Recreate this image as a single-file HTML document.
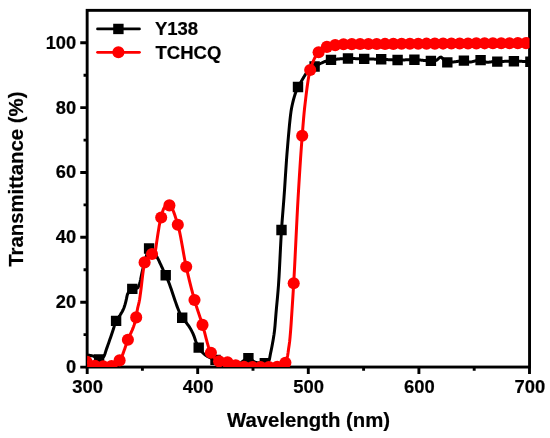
<!DOCTYPE html>
<html lang="en"><head><meta charset="utf-8"><title>Transmittance</title>
<style>html,body{margin:0;padding:0;background:#fff;}svg{display:block;}text{font-family:"Liberation Sans",sans-serif;font-weight:bold;fill:#000;stroke:#000;stroke-width:0.2px;}</style></head><body>
<svg width="550" height="438" viewBox="0 0 550 438">
<rect width="550" height="438" fill="#fff"/>
<defs><clipPath id="c"><rect x="87.15" y="10.35" width="442.4" height="356.7"/></clipPath></defs>
<rect x="87.15" y="10.35" width="442.4" height="356.7" fill="none" stroke="#000" stroke-width="2.9"/>
<path d="M87.2 367.05 v6.9 M142.4 367.05 v3.6 M197.7 367.05 v6.9 M253.0 367.05 v3.6 M308.3 367.05 v6.9 M363.6 367.05 v3.6 M418.9 367.05 v6.9 M474.2 367.05 v3.6 M529.5 367.05 v6.9 M87.15 367.1 h-6.9 M87.15 334.6 h-3.6 M87.15 302.2 h-6.9 M87.15 269.8 h-3.6 M87.15 237.3 h-6.9 M87.15 204.9 h-3.6 M87.15 172.5 h-6.9 M87.15 140.1 h-3.6 M87.15 107.6 h-6.9 M87.15 75.2 h-3.6 M87.15 42.8 h-6.9" stroke="#000" stroke-width="2.9" fill="none"/>
<text x="87.6" y="393.2" font-size="18.4" text-anchor="middle">300</text>
<text x="198.1" y="393.2" font-size="18.4" text-anchor="middle">400</text>
<text x="308.7" y="393.2" font-size="18.4" text-anchor="middle">500</text>
<text x="419.3" y="393.2" font-size="18.4" text-anchor="middle">600</text>
<text x="529.9" y="393.2" font-size="18.4" text-anchor="middle">700</text>
<text x="76.2" y="372.9" font-size="18.3" text-anchor="end">0</text>
<text x="76.2" y="308.1" font-size="18.3" text-anchor="end">20</text>
<text x="76.2" y="243.2" font-size="18.3" text-anchor="end">40</text>
<text x="76.2" y="178.4" font-size="18.3" text-anchor="end">60</text>
<text x="76.2" y="113.5" font-size="18.3" text-anchor="end">80</text>
<text x="76.2" y="48.7" font-size="18.3" text-anchor="end">100</text>
<text x="308.6" y="426.9" font-size="20.35" text-anchor="middle">Wavelength (nm)</text>
<text transform="translate(23.2 179.2) rotate(-90)" font-size="20.35" text-anchor="middle">Transmittance (%)</text>
<g clip-path="url(#c)">
<path d="M84.0 354.60 L84.5 354.67 L85.0 354.73 L85.5 354.80 L86.0 354.87 L86.5 354.94 L87.0 355.01 L87.5 355.09 L88.0 355.15 L88.5 355.22 L89.0 355.29 L89.5 355.36 L90.0 355.43 L90.5 355.50 L91.0 355.58 L91.5 355.67 L92.0 355.77 L92.5 355.88 L93.0 356.00 L93.5 356.17 L94.0 356.42 L94.5 356.73 L95.0 357.09 L95.5 357.47 L96.0 357.85 L96.5 358.23 L97.0 358.59 L97.5 358.90 L98.0 359.15 L98.5 359.32 L99.0 359.40 L99.5 359.38 L100.0 359.28 L100.5 359.11 L101.0 358.88 L101.5 358.60 L102.0 358.26 L102.5 357.88 L103.0 357.46 L103.5 357.00 L104.0 356.27 L104.5 355.12 L105.0 353.68 L105.5 352.09 L106.0 350.48 L106.5 349.00 L107.0 347.62 L107.5 346.22 L108.0 344.81 L108.5 343.40 L109.0 341.97 L109.5 340.54 L110.0 339.09 L110.5 337.64 L111.0 336.18 L111.5 334.72 L112.0 333.25 L112.5 331.78 L113.0 330.30 L113.5 328.76 L114.0 327.10 L114.5 325.42 L115.0 323.80 L115.5 322.33 L116.0 321.11 L116.5 320.15 L117.0 319.33 L117.5 318.61 L118.0 317.95 L118.5 317.32 L119.0 316.69 L119.5 316.01 L120.0 315.26 L120.5 314.45 L121.0 313.63 L121.5 312.80 L122.0 311.94 L122.5 311.02 L123.0 310.03 L123.5 308.95 L124.0 307.75 L124.5 306.36 L125.0 304.66 L125.5 302.77 L126.0 300.79 L126.5 298.66 L127.0 296.17 L127.5 294.23 L128.0 293.26 L128.5 292.41 L129.0 291.66 L129.5 291.00 L130.0 290.43 L130.5 289.95 L131.0 289.56 L131.5 289.24 L132.0 289.00 L132.5 288.84 L133.0 288.73 L133.5 288.64 L134.0 288.58 L134.5 288.53 L135.0 288.48 L135.5 288.43 L136.0 288.36 L136.5 288.28 L137.0 288.16 L137.5 288.00 L138.0 287.51 L138.5 286.52 L139.0 285.22 L139.5 283.79 L140.0 282.16 L140.5 280.03 L141.0 277.59 L141.5 275.02 L142.0 272.53 L142.5 270.30 L143.0 268.31 L143.5 266.39 L144.0 264.54 L144.5 262.75 L145.0 261.01 L145.5 259.33 L146.0 257.59 L146.5 255.64 L147.0 253.64 L147.5 251.77 L148.0 250.18 L148.5 249.04 L149.0 248.52 L149.5 248.53 L150.0 248.64 L150.5 248.82 L151.0 249.09 L151.5 249.43 L152.0 249.83 L152.5 250.30 L153.0 250.84 L153.5 251.44 L154.0 252.09 L154.5 252.79 L155.0 253.54 L155.5 254.34 L156.0 255.18 L156.5 256.07 L157.0 256.98 L157.5 257.93 L158.0 258.91 L158.5 259.92 L159.0 260.94 L159.5 261.99 L160.0 263.05 L160.5 264.12 L161.0 265.21 L161.5 266.30 L162.0 267.39 L162.5 268.48 L163.0 269.56 L163.5 270.64 L164.0 271.70 L164.5 272.76 L165.0 273.79 L165.5 274.80 L166.0 275.81 L166.5 276.87 L167.0 277.99 L167.5 279.16 L168.0 280.39 L168.5 281.66 L169.0 282.98 L169.5 284.33 L170.0 285.72 L170.5 287.13 L171.0 288.57 L171.5 290.03 L172.0 291.51 L172.5 292.99 L173.0 294.48 L173.5 295.98 L174.0 297.47 L174.5 298.95 L175.0 300.42 L175.5 301.88 L176.0 303.32 L176.5 304.73 L177.0 306.12 L177.5 307.47 L178.0 308.78 L178.5 310.05 L179.0 311.27 L179.5 312.44 L180.0 313.56 L180.5 314.62 L181.0 315.61 L181.5 316.53 L182.0 317.38 L182.5 318.15 L183.0 318.85 L183.5 319.49 L184.0 320.08 L184.5 320.65 L185.0 321.21 L185.5 321.77 L186.0 322.37 L186.5 323.00 L187.0 323.66 L187.5 324.32 L188.0 324.99 L188.5 325.68 L189.0 326.39 L189.5 327.14 L190.0 327.94 L190.5 328.78 L191.0 329.67 L191.5 330.61 L192.0 331.60 L192.5 332.64 L193.0 333.72 L193.5 334.87 L194.0 336.12 L194.5 337.54 L195.0 339.03 L195.5 340.51 L196.0 341.85 L196.5 343.06 L197.0 344.24 L197.5 345.36 L198.0 346.39 L198.5 347.28 L199.0 348.05 L199.5 348.77 L200.0 349.46 L200.5 350.13 L201.0 350.76 L201.5 351.36 L202.0 351.94 L202.5 352.49 L203.0 353.00 L203.5 353.49 L204.0 353.95 L204.5 354.38 L205.0 354.78 L205.5 355.16 L206.0 355.50 L206.5 355.82 L207.0 356.13 L207.5 356.42 L208.0 356.69 L208.5 356.95 L209.0 357.20 L209.5 357.44 L210.0 357.67 L210.5 357.89 L211.0 358.11 L211.5 358.31 L212.0 358.52 L212.5 358.72 L213.0 358.91 L213.5 359.11 L214.0 359.30 L214.5 359.50 L215.0 359.70 L215.5 359.90 L216.0 360.11 L216.5 360.32 L217.0 360.54 L217.5 360.77 L218.0 361.00 L218.5 361.23 L219.0 361.47 L219.5 361.71 L220.0 361.95 L220.5 362.19 L221.0 362.43 L221.5 362.67 L222.0 362.90 L222.5 363.13 L223.0 363.36 L223.5 363.58 L224.0 363.80 L224.5 364.01 L225.0 364.21 L225.5 364.41 L226.0 364.59 L226.5 364.77 L227.0 364.93 L227.5 365.09 L228.0 365.23 L228.5 365.36 L229.0 365.47 L229.5 365.57 L230.0 365.65 L230.5 365.71 L231.0 365.76 L231.5 365.79 L232.0 365.80 L232.5 365.78 L233.0 365.73 L233.5 365.64 L234.0 365.52 L234.5 365.38 L235.0 365.22 L235.5 365.03 L236.0 364.83 L236.5 364.61 L237.0 364.39 L237.5 364.16 L238.0 363.92 L238.5 363.68 L239.0 363.45 L239.5 363.22 L240.0 363.00 L240.5 362.76 L241.0 362.48 L241.5 362.17 L242.0 361.83 L242.5 361.47 L243.0 361.10 L243.5 360.72 L244.0 360.35 L244.5 359.98 L245.0 359.63 L245.5 359.31 L246.0 359.02 L246.5 358.77 L247.0 358.56 L247.5 358.41 L248.0 358.32 L248.5 358.30 L249.0 358.37 L249.5 358.52 L250.0 358.75 L250.5 359.03 L251.0 359.37 L251.5 359.73 L252.0 360.12 L252.5 360.52 L253.0 360.92 L253.5 361.30 L254.0 361.65 L254.5 361.95 L255.0 362.21 L255.5 362.39 L256.0 362.50 L256.5 362.56 L257.0 362.62 L257.5 362.67 L258.0 362.73 L258.5 362.78 L259.0 362.82 L259.5 362.87 L260.0 362.91 L260.5 362.94 L261.0 362.98 L261.5 363.01 L262.0 363.03 L262.5 363.05 L263.0 363.07 L263.5 363.08 L264.0 363.09 L264.5 363.10 L265.0 363.09 L265.5 363.03 L266.0 362.89 L266.5 362.68 L267.0 362.39 L267.5 362.03 L268.0 361.59 L268.5 361.08 L269.0 360.50 L269.5 358.97 L270.0 356.32 L270.5 353.60 L271.0 351.18 L271.5 348.73 L272.0 346.18 L272.5 343.50 L273.0 340.65 L273.5 337.74 L274.0 334.56 L274.5 330.84 L275.0 325.93 L275.5 319.68 L276.0 313.29 L276.5 307.63 L277.0 302.36 L277.5 297.08 L278.0 291.42 L278.5 285.00 L279.0 277.17 L279.5 267.96 L280.0 258.01 L280.5 247.94 L281.0 238.39 L281.5 230.00 L282.0 222.82 L282.5 216.28 L283.0 210.07 L283.5 203.87 L284.0 197.36 L284.5 190.28 L285.0 182.71 L285.5 174.95 L286.0 167.28 L286.5 160.00 L287.0 153.41 L287.5 147.43 L288.0 141.48 L288.5 135.64 L289.0 130.02 L289.5 124.70 L290.0 119.79 L290.5 115.40 L291.0 111.61 L291.5 108.52 L292.0 106.03 L292.5 103.74 L293.0 101.61 L293.5 99.64 L294.0 97.81 L294.5 96.11 L295.0 94.54 L295.5 93.08 L296.0 91.71 L296.5 90.44 L297.0 89.23 L297.5 88.09 L298.0 87.00 L298.5 86.01 L299.0 85.14 L299.5 84.35 L300.0 83.57 L300.5 82.77 L301.0 81.91 L301.5 81.05 L302.0 80.18 L302.5 79.32 L303.0 78.47 L303.5 77.62 L304.0 76.76 L304.5 75.91 L305.0 75.10 L305.5 74.36 L306.0 73.64 L306.5 72.95 L307.0 72.28 L307.5 71.66 L308.0 71.09 L308.5 70.60 L309.0 70.16 L309.5 69.74 L310.0 69.35 L310.5 68.98 L311.0 68.63 L311.5 68.29 L312.0 67.97 L312.5 67.67 L313.0 67.37 L313.5 67.09 L314.0 66.82 L314.5 66.55 L315.0 66.29 L315.5 66.03 L316.0 65.77 L316.5 65.50 L317.0 65.24 L317.5 64.98 L318.0 64.72 L318.5 64.47 L319.0 64.22 L319.5 63.96 L320.0 63.72 L320.5 63.47 L321.0 63.23 L321.5 63.00 L322.0 62.77 L322.5 62.54 L323.0 62.32 L323.5 62.11 L324.0 61.90 L324.5 61.70 L325.0 61.51 L325.5 61.32 L326.0 61.14 L326.5 60.97 L327.0 60.81 L327.5 60.66 L328.0 60.52 L328.5 60.39 L329.0 60.27 L329.5 60.16 L330.0 60.06 L330.5 59.97 L331.0 59.90 L331.5 59.83 L332.0 59.76 L332.5 59.70 L333.0 59.63 L333.5 59.57 L334.0 59.51 L334.5 59.44 L335.0 59.38 L335.5 59.32 L336.0 59.27 L336.5 59.21 L337.0 59.16 L337.5 59.10 L338.0 59.05 L338.5 59.00 L339.0 58.95 L339.5 58.91 L340.0 58.86 L340.5 58.82 L341.0 58.78 L341.5 58.75 L342.0 58.71 L342.5 58.68 L343.0 58.65 L343.5 58.62 L344.0 58.60 L344.5 58.58 L345.0 58.56 L345.5 58.54 L346.0 58.53 L346.5 58.51 L347.0 58.51 L347.5 58.50 L348.0 58.50 L348.5 58.50 L349.0 58.50 L349.5 58.51 L350.0 58.51 L350.5 58.52 L351.0 58.53 L351.5 58.53 L352.0 58.54 L352.5 58.55 L353.0 58.57 L353.5 58.58 L354.0 58.59 L354.5 58.60 L355.0 58.62 L355.5 58.63 L356.0 58.65 L356.5 58.66 L357.0 58.68 L357.5 58.70 L358.0 58.71 L358.5 58.73 L359.0 58.75 L359.5 58.76 L360.0 58.78 L360.5 58.79 L361.0 58.81 L361.5 58.83 L362.0 58.84 L362.5 58.85 L363.0 58.87 L363.5 58.88 L364.0 58.90 L364.5 58.91 L365.0 58.92 L365.5 58.93 L366.0 58.94 L366.5 58.95 L367.0 58.96 L367.5 58.98 L368.0 58.99 L368.5 59.00 L369.0 59.01 L369.5 59.02 L370.0 59.03 L370.5 59.04 L371.0 59.05 L371.5 59.06 L372.0 59.07 L372.5 59.08 L373.0 59.09 L373.5 59.10 L374.0 59.12 L374.5 59.13 L375.0 59.14 L375.5 59.15 L376.0 59.16 L376.5 59.17 L377.0 59.19 L377.5 59.20 L378.0 59.21 L378.5 59.22 L379.0 59.24 L379.5 59.25 L380.0 59.26 L380.5 59.28 L381.0 59.29 L381.5 59.31 L382.0 59.33 L382.5 59.35 L383.0 59.37 L383.5 59.39 L384.0 59.41 L384.5 59.44 L385.0 59.46 L385.5 59.49 L386.0 59.52 L386.5 59.55 L387.0 59.57 L387.5 59.60 L388.0 59.63 L388.5 59.66 L389.0 59.69 L389.5 59.72 L390.0 59.75 L390.5 59.77 L391.0 59.80 L391.5 59.82 L392.0 59.85 L392.5 59.87 L393.0 59.89 L393.5 59.91 L394.0 59.93 L394.5 59.95 L395.0 59.96 L395.5 59.98 L396.0 59.99 L396.5 59.99 L397.0 60.00 L397.5 60.00 L398.0 60.00 L398.5 60.00 L399.0 59.99 L399.5 59.99 L400.0 59.98 L400.5 59.98 L401.0 59.97 L401.5 59.96 L402.0 59.95 L402.5 59.94 L403.0 59.93 L403.5 59.91 L404.0 59.90 L404.5 59.89 L405.0 59.88 L405.5 59.86 L406.0 59.85 L406.5 59.84 L407.0 59.82 L407.5 59.81 L408.0 59.80 L408.5 59.79 L409.0 59.77 L409.5 59.76 L410.0 59.75 L410.5 59.74 L411.0 59.73 L411.5 59.72 L412.0 59.72 L412.5 59.71 L413.0 59.71 L413.5 59.70 L414.0 59.70 L414.5 59.70 L415.0 59.70 L415.5 59.72 L416.0 59.73 L416.5 59.75 L417.0 59.78 L417.5 59.81 L418.0 59.85 L418.5 59.89 L419.0 59.93 L419.5 59.97 L420.0 60.02 L420.5 60.07 L421.0 60.12 L421.5 60.18 L422.0 60.23 L422.5 60.28 L423.0 60.34 L423.5 60.39 L424.0 60.45 L424.5 60.50 L425.0 60.55 L425.5 60.60 L426.0 60.65 L426.5 60.69 L427.0 60.73 L427.5 60.77 L428.0 60.80 L428.5 60.83 L429.0 60.86 L429.5 60.88 L430.0 60.89 L430.5 60.90 L431.0 60.90 L431.5 60.89 L432.0 60.87 L432.5 60.84 L433.0 60.80 L433.5 60.76 L434.0 60.70 L434.5 60.63 L435.0 60.56 L435.5 60.48 L436.0 60.40 L436.5 60.23 L437.0 59.92 L437.5 59.51 L438.0 59.04 L438.5 58.55 L439.0 58.07 L439.5 57.65 L440.0 57.33 L440.5 57.13 L441.0 57.12 L441.5 57.37 L442.0 57.82 L442.5 58.36 L443.0 58.92 L443.5 59.40 L444.0 59.85 L444.5 60.36 L445.0 60.88 L445.5 61.39 L446.0 61.83 L446.5 62.17 L447.0 62.36 L447.5 62.40 L448.0 62.39 L448.5 62.38 L449.0 62.35 L449.5 62.33 L450.0 62.29 L450.5 62.25 L451.0 62.21 L451.5 62.16 L452.0 62.11 L452.5 62.06 L453.0 62.01 L453.5 61.95 L454.0 61.90 L454.5 61.85 L455.0 61.80 L455.5 61.75 L456.0 61.68 L456.5 61.61 L457.0 61.53 L457.5 61.44 L458.0 61.35 L458.5 61.26 L459.0 61.17 L459.5 61.08 L460.0 61.00 L460.5 60.91 L461.0 60.84 L461.5 60.77 L462.0 60.71 L462.5 60.66 L463.0 60.63 L463.5 60.61 L464.0 60.60 L464.5 60.65 L465.0 60.75 L465.5 60.90 L466.0 61.07 L466.5 61.27 L467.0 61.47 L467.5 61.66 L468.0 61.83 L468.5 61.97 L469.0 62.07 L469.5 62.10 L470.0 62.08 L470.5 62.03 L471.0 61.96 L471.5 61.86 L472.0 61.75 L472.5 61.62 L473.0 61.49 L473.5 61.35 L474.0 61.21 L474.5 61.08 L475.0 60.96 L475.5 60.85 L476.0 60.77 L476.5 60.67 L477.0 60.58 L477.5 60.48 L478.0 60.38 L478.5 60.30 L479.0 60.22 L479.5 60.16 L480.0 60.12 L480.5 60.10 L481.0 60.12 L481.5 60.20 L482.0 60.33 L482.5 60.51 L483.0 60.71 L483.5 60.94 L484.0 61.18 L484.5 61.41 L485.0 61.64 L485.5 61.85 L486.0 62.03 L486.5 62.17 L487.0 62.27 L487.5 62.30 L488.0 62.28 L488.5 62.23 L489.0 62.17 L489.5 62.09 L490.0 62.01 L490.5 61.95 L491.0 61.90 L491.5 61.87 L492.0 61.83 L492.5 61.81 L493.0 61.78 L493.5 61.75 L494.0 61.73 L494.5 61.71 L495.0 61.68 L495.5 61.66 L496.0 61.65 L496.5 61.63 L497.0 61.61 L497.5 61.59 L498.0 61.58 L498.5 61.56 L499.0 61.54 L499.5 61.53 L500.0 61.51 L500.5 61.49 L501.0 61.47 L501.5 61.46 L502.0 61.44 L502.5 61.42 L503.0 61.41 L503.5 61.39 L504.0 61.38 L504.5 61.36 L505.0 61.35 L505.5 61.33 L506.0 61.32 L506.5 61.31 L507.0 61.29 L507.5 61.28 L508.0 61.27 L508.5 61.26 L509.0 61.25 L509.5 61.24 L510.0 61.23 L510.5 61.22 L511.0 61.22 L511.5 61.21 L512.0 61.21 L512.5 61.20 L513.0 61.20 L513.5 61.20 L514.0 61.20 L514.5 61.20 L515.0 61.20 L515.5 61.21 L516.0 61.21 L516.5 61.22 L517.0 61.22 L517.5 61.23 L518.0 61.24 L518.5 61.25 L519.0 61.26 L519.5 61.28 L520.0 61.29 L520.5 61.31 L521.0 61.32 L521.5 61.34 L522.0 61.36 L522.5 61.38 L523.0 61.40 L523.5 61.42 L524.0 61.44 L524.5 61.46 L525.0 61.49 L525.5 61.51 L526.0 61.54 L526.5 61.56 L527.0 61.59 L527.5 61.62 L528.0 61.65 L528.5 61.68 L529.0 61.71 L529.5 61.74 L530.0 61.77" fill="none" stroke="#000" stroke-width="3" stroke-linejoin="round"/>
<path d="M93.9 354.2h10.4v10.4h-10.4z M110.9 315.7h10.4v10.4h-10.4z M127.1 283.7h10.4v10.4h-10.4z M143.9 243.3h10.4v10.4h-10.4z M160.5 270.0h10.4v10.4h-10.4z M177.0 312.5h10.4v10.4h-10.4z M193.5 342.4h10.4v10.4h-10.4z M210.3 354.7h10.4v10.4h-10.4z M226.8 360.6h10.4v10.4h-10.4z M243.2 353.1h10.4v10.4h-10.4z M259.6 357.9h10.4v10.4h-10.4z M276.3 224.8h10.4v10.4h-10.4z M292.8 81.8h10.4v10.4h-10.4z M309.4 61.3h10.4v10.4h-10.4z M325.8 54.7h10.4v10.4h-10.4z M342.8 53.3h10.4v10.4h-10.4z M359.0 53.7h10.4v10.4h-10.4z M376.0 54.1h10.4v10.4h-10.4z M392.4 54.8h10.4v10.4h-10.4z M409.2 54.5h10.4v10.4h-10.4z M425.7 55.7h10.4v10.4h-10.4z M442.1 57.2h10.4v10.4h-10.4z M458.7 55.4h10.4v10.4h-10.4z M475.4 54.9h10.4v10.4h-10.4z M492.1 56.4h10.4v10.4h-10.4z M508.7 56.0h10.4v10.4h-10.4z M525.2 56.6h10.4v10.4h-10.4z" fill="#000"/>
<path d="M86.6 361.70 L87.1 362.04 L87.6 362.38 L88.1 362.72 L88.6 363.04 L89.1 363.36 L89.6 363.66 L90.1 363.95 L90.6 364.23 L91.1 364.49 L91.6 364.73 L92.1 364.94 L92.6 365.14 L93.1 365.31 L93.6 365.46 L94.1 365.57 L94.6 365.66 L95.1 365.72 L95.6 365.77 L96.1 365.82 L96.6 365.87 L97.1 365.91 L97.6 365.96 L98.1 366.00 L98.6 366.03 L99.1 366.06 L99.6 366.09 L100.1 366.12 L100.6 366.14 L101.1 366.16 L101.6 366.18 L102.1 366.19 L102.6 366.20 L103.1 366.20 L103.6 366.20 L104.1 366.20 L104.6 366.20 L105.1 366.19 L105.6 366.19 L106.1 366.19 L106.6 366.18 L107.1 366.18 L107.6 366.17 L108.1 366.16 L108.6 366.16 L109.1 366.15 L109.6 366.14 L110.1 366.13 L110.6 366.12 L111.1 366.11 L111.6 366.10 L112.1 366.04 L112.6 365.94 L113.1 365.77 L113.6 365.56 L114.1 365.31 L114.6 365.01 L115.1 364.67 L115.6 364.30 L116.1 363.89 L116.6 363.45 L117.1 362.99 L117.6 362.50 L118.1 362.00 L118.6 361.48 L119.1 360.94 L119.6 360.40 L120.1 359.77 L120.6 359.00 L121.1 358.09 L121.6 357.06 L122.1 355.92 L122.6 354.69 L123.1 353.39 L123.6 352.02 L124.1 350.60 L124.6 349.15 L125.1 347.67 L125.6 346.19 L126.1 344.72 L126.6 343.27 L127.1 341.85 L127.6 340.49 L128.1 339.19 L128.6 337.97 L129.1 336.82 L129.6 335.72 L130.1 334.66 L130.6 333.61 L131.1 332.55 L131.6 331.47 L132.1 330.36 L132.6 329.18 L133.1 327.93 L133.6 326.59 L134.1 325.13 L134.6 323.55 L135.1 321.82 L135.6 319.92 L136.1 317.84 L136.6 314.75 L137.1 311.00 L137.6 308.43 L138.1 306.28 L138.6 304.27 L139.1 302.08 L139.6 299.41 L140.1 296.06 L140.6 292.30 L141.1 288.44 L141.6 284.28 L142.1 279.94 L142.6 275.67 L143.1 271.73 L143.6 268.13 L144.1 264.62 L144.6 262.40 L145.1 261.33 L145.6 260.40 L146.1 259.58 L146.6 258.87 L147.1 258.25 L147.6 257.71 L148.1 257.23 L148.6 256.80 L149.1 256.40 L149.6 256.01 L150.1 255.64 L150.6 255.25 L151.1 254.84 L151.6 254.40 L152.1 253.90 L152.6 253.47 L153.1 253.13 L153.6 252.79 L154.1 252.39 L154.6 251.87 L155.1 251.16 L155.6 249.67 L156.1 246.21 L156.6 242.66 L157.1 239.39 L157.6 236.08 L158.1 232.81 L158.6 229.68 L159.1 226.58 L159.6 223.78 L160.1 221.59 L160.6 219.74 L161.1 217.90 L161.6 215.75 L162.1 213.47 L162.6 211.60 L163.1 210.15 L163.6 208.84 L164.1 207.81 L164.6 207.20 L165.1 206.86 L165.6 206.55 L166.1 206.28 L166.6 206.04 L167.1 205.84 L167.6 205.67 L168.1 205.54 L168.6 205.45 L169.1 205.41 L169.6 205.42 L170.1 205.61 L170.6 206.01 L171.1 206.59 L171.6 207.34 L172.1 208.24 L172.6 209.29 L173.1 210.46 L173.6 211.74 L174.1 213.12 L174.6 214.57 L175.1 216.08 L175.6 217.65 L176.1 219.24 L176.6 220.85 L177.1 222.47 L177.6 224.07 L178.1 225.69 L178.6 227.53 L179.1 229.58 L179.6 231.82 L180.1 234.23 L180.6 236.77 L181.1 239.42 L181.6 242.16 L182.1 244.95 L182.6 247.78 L183.1 250.62 L183.6 253.43 L184.1 256.21 L184.6 258.91 L185.1 261.52 L185.6 264.01 L186.1 266.35 L186.6 268.57 L187.1 270.76 L187.6 272.93 L188.1 275.07 L188.6 277.19 L189.1 279.28 L189.6 281.34 L190.1 283.38 L190.6 285.39 L191.1 287.36 L191.6 289.31 L192.1 291.23 L192.6 293.12 L193.1 294.97 L193.6 296.80 L194.1 298.59 L194.6 300.35 L195.1 302.06 L195.6 303.73 L196.1 305.35 L196.6 306.94 L197.1 308.49 L197.6 310.02 L198.1 311.54 L198.6 313.03 L199.1 314.53 L199.6 316.01 L200.1 317.51 L200.6 319.01 L201.1 320.52 L201.6 322.06 L202.1 323.63 L202.6 325.22 L203.1 326.91 L203.6 328.68 L204.1 330.53 L204.6 332.43 L205.1 334.37 L205.6 336.32 L206.1 338.27 L206.6 340.19 L207.1 342.06 L207.6 343.88 L208.1 345.60 L208.6 347.23 L209.1 348.73 L209.6 350.08 L210.1 351.28 L210.6 352.29 L211.1 353.11 L211.6 353.89 L212.1 354.64 L212.6 355.36 L213.1 356.06 L213.6 356.73 L214.1 357.37 L214.6 357.97 L215.1 358.54 L215.6 359.06 L216.1 359.54 L216.6 359.97 L217.1 360.34 L217.6 360.67 L218.1 360.94 L218.6 361.15 L219.1 361.30 L219.6 361.41 L220.1 361.50 L220.6 361.59 L221.1 361.66 L221.6 361.72 L222.1 361.78 L222.6 361.83 L223.1 361.88 L223.6 361.92 L224.1 361.97 L224.6 362.01 L225.1 362.06 L225.6 362.12 L226.1 362.18 L226.6 362.25 L227.1 362.33 L227.6 362.42 L228.1 362.53 L228.6 362.67 L229.1 362.82 L229.6 363.00 L230.1 363.18 L230.6 363.38 L231.1 363.58 L231.6 363.79 L232.1 364.00 L232.6 364.21 L233.1 364.42 L233.6 364.61 L234.1 364.80 L234.6 364.98 L235.1 365.13 L235.6 365.27 L236.1 365.40 L236.6 365.53 L237.1 365.66 L237.6 365.79 L238.1 365.92 L238.6 366.04 L239.1 366.16 L239.6 366.28 L240.1 366.39 L240.6 366.49 L241.1 366.59 L241.6 366.67 L242.1 366.74 L242.6 366.81 L243.1 366.85 L243.6 366.89 L244.1 366.90 L244.6 366.91 L245.1 366.92 L245.6 366.93 L246.1 366.94 L246.6 366.95 L247.1 366.96 L247.6 366.97 L248.1 366.97 L248.6 366.98 L249.1 366.98 L249.6 366.99 L250.1 366.99 L250.6 367.00 L251.1 367.00 L251.6 367.00 L252.1 367.00 L252.6 367.00 L253.1 367.00 L253.6 367.00 L254.1 367.00 L254.6 367.00 L255.1 367.00 L255.6 367.00 L256.1 367.00 L256.6 367.00 L257.1 367.00 L257.6 367.00 L258.1 367.00 L258.6 367.00 L259.1 367.00 L259.6 367.00 L260.1 367.00 L260.6 367.00 L261.1 367.00 L261.6 367.00 L262.1 367.00 L262.6 367.00 L263.1 367.00 L263.6 367.00 L264.1 367.00 L264.6 367.00 L265.1 367.00 L265.6 367.00 L266.1 367.00 L266.6 367.00 L267.1 367.00 L267.6 367.00 L268.1 367.00 L268.6 367.00 L269.1 367.00 L269.6 367.00 L270.1 367.00 L270.6 367.00 L271.1 366.99 L271.6 366.99 L272.1 366.98 L272.6 366.98 L273.1 366.97 L273.6 366.97 L274.1 366.96 L274.6 366.95 L275.1 366.94 L275.6 366.93 L276.1 366.92 L276.6 366.91 L277.1 366.90 L277.6 366.88 L278.1 366.83 L278.6 366.76 L279.1 366.66 L279.6 366.52 L280.1 366.36 L280.6 366.17 L281.1 365.95 L281.6 365.70 L282.1 365.43 L282.6 365.12 L283.1 364.77 L283.6 364.40 L284.1 364.00 L284.6 363.56 L285.1 363.10 L285.6 362.54 L286.1 361.46 L286.6 359.87 L287.1 357.92 L287.6 355.72 L288.1 352.56 L288.6 348.82 L289.1 345.45 L289.6 341.90 L290.1 336.96 L290.6 330.96 L291.1 324.17 L291.6 316.47 L292.1 308.74 L292.6 301.07 L293.1 293.23 L293.6 285.01 L294.1 276.19 L294.6 266.76 L295.1 256.86 L295.6 246.69 L296.1 236.41 L296.6 226.20 L297.1 216.22 L297.6 206.67 L298.1 197.71 L298.6 189.30 L299.1 181.12 L299.6 173.16 L300.1 165.44 L300.6 157.96 L301.1 150.73 L301.6 143.78 L302.1 137.10 L302.6 130.64 L303.1 124.32 L303.6 118.33 L304.1 112.83 L304.6 108.00 L305.1 103.60 L305.6 99.31 L306.1 95.14 L306.6 91.13 L307.1 87.32 L307.6 83.73 L308.1 80.40 L308.6 77.37 L309.1 74.66 L309.6 72.31 L310.1 70.34 L310.6 68.69 L311.1 67.11 L311.6 65.62 L312.1 64.20 L312.6 62.85 L313.1 61.58 L313.6 60.38 L314.1 59.26 L314.6 58.20 L315.1 57.22 L315.6 56.30 L316.1 55.45 L316.6 54.67 L317.1 53.96 L317.6 53.31 L318.1 52.72 L318.6 52.20 L319.1 51.72 L319.6 51.26 L320.1 50.83 L320.6 50.41 L321.1 50.02 L321.6 49.65 L322.1 49.30 L322.6 48.96 L323.1 48.65 L323.6 48.36 L324.1 48.09 L324.6 47.83 L325.1 47.60 L325.6 47.38 L326.1 47.18 L326.6 47.00 L327.1 46.84 L327.6 46.68 L328.1 46.54 L328.6 46.40 L329.1 46.26 L329.6 46.14 L330.1 46.02 L330.6 45.91 L331.1 45.80 L331.6 45.70 L332.1 45.61 L332.6 45.52 L333.1 45.43 L333.6 45.35 L334.1 45.27 L334.6 45.19 L335.1 45.11 L335.6 45.04 L336.1 44.97 L336.6 44.90 L337.1 44.82 L337.6 44.75 L338.1 44.68 L338.6 44.62 L339.1 44.55 L339.6 44.49 L340.1 44.44 L340.6 44.38 L341.1 44.34 L341.6 44.30 L342.1 44.26 L342.6 44.23 L343.1 44.21 L343.6 44.20 L344.1 44.19 L344.6 44.18 L345.1 44.17 L345.6 44.16 L346.1 44.15 L346.6 44.15 L347.1 44.14 L347.6 44.14 L348.1 44.13 L348.6 44.13 L349.1 44.12 L349.6 44.12 L350.1 44.11 L350.6 44.11 L351.1 44.11 L351.6 44.10 L352.1 44.10 L352.6 44.09 L353.1 44.09 L353.6 44.09 L354.1 44.08 L354.6 44.08 L355.1 44.08 L355.6 44.07 L356.1 44.07 L356.6 44.07 L357.1 44.07 L357.6 44.06 L358.1 44.06 L358.6 44.06 L359.1 44.06 L359.6 44.05 L360.1 44.05 L360.6 44.05 L361.1 44.04 L361.6 44.04 L362.1 44.04 L362.6 44.04 L363.1 44.04 L363.6 44.03 L364.1 44.03 L364.6 44.03 L365.1 44.03 L365.6 44.02 L366.1 44.02 L366.6 44.02 L367.1 44.02 L367.6 44.01 L368.1 44.01 L368.6 44.01 L369.1 44.01 L369.6 44.00 L370.1 44.00 L370.6 44.00 L371.1 43.99 L371.6 43.99 L372.1 43.99 L372.6 43.99 L373.1 43.98 L373.6 43.98 L374.1 43.98 L374.6 43.97 L375.1 43.97 L375.6 43.97 L376.1 43.96 L376.6 43.96 L377.1 43.96 L377.6 43.95 L378.1 43.95 L378.6 43.95 L379.1 43.95 L379.6 43.94 L380.1 43.94 L380.6 43.94 L381.1 43.93 L381.6 43.93 L382.1 43.93 L382.6 43.92 L383.1 43.92 L383.6 43.92 L384.1 43.92 L384.6 43.91 L385.1 43.91 L385.6 43.91 L386.1 43.90 L386.6 43.90 L387.1 43.90 L387.6 43.89 L388.1 43.89 L388.6 43.89 L389.1 43.88 L389.6 43.88 L390.1 43.88 L390.6 43.88 L391.1 43.87 L391.6 43.87 L392.1 43.87 L392.6 43.86 L393.1 43.86 L393.6 43.86 L394.1 43.86 L394.6 43.85 L395.1 43.85 L395.6 43.85 L396.1 43.85 L396.6 43.84 L397.1 43.84 L397.6 43.84 L398.1 43.84 L398.6 43.83 L399.1 43.83 L399.6 43.83 L400.1 43.83 L400.6 43.83 L401.1 43.82 L401.6 43.82 L402.1 43.82 L402.6 43.81 L403.1 43.81 L403.6 43.81 L404.1 43.81 L404.6 43.80 L405.1 43.80 L405.6 43.80 L406.1 43.79 L406.6 43.79 L407.1 43.79 L407.6 43.78 L408.1 43.78 L408.6 43.78 L409.1 43.77 L409.6 43.77 L410.1 43.77 L410.6 43.77 L411.1 43.76 L411.6 43.76 L412.1 43.76 L412.6 43.75 L413.1 43.75 L413.6 43.75 L414.1 43.74 L414.6 43.74 L415.1 43.74 L415.6 43.74 L416.1 43.73 L416.6 43.73 L417.1 43.73 L417.6 43.72 L418.1 43.72 L418.6 43.72 L419.1 43.71 L419.6 43.71 L420.1 43.71 L420.6 43.71 L421.1 43.70 L421.6 43.70 L422.1 43.70 L422.6 43.69 L423.1 43.69 L423.6 43.69 L424.1 43.68 L424.6 43.68 L425.1 43.68 L425.6 43.67 L426.1 43.67 L426.6 43.67 L427.1 43.67 L427.6 43.66 L428.1 43.66 L428.6 43.66 L429.1 43.66 L429.6 43.65 L430.1 43.65 L430.6 43.65 L431.1 43.65 L431.6 43.65 L432.1 43.64 L432.6 43.64 L433.1 43.64 L433.6 43.64 L434.1 43.63 L434.6 43.63 L435.1 43.63 L435.6 43.63 L436.1 43.62 L436.6 43.62 L437.1 43.62 L437.6 43.61 L438.1 43.61 L438.6 43.61 L439.1 43.60 L439.6 43.60 L440.1 43.60 L440.6 43.60 L441.1 43.59 L441.6 43.59 L442.1 43.59 L442.6 43.58 L443.1 43.58 L443.6 43.58 L444.1 43.57 L444.6 43.57 L445.1 43.57 L445.6 43.56 L446.1 43.56 L446.6 43.56 L447.1 43.56 L447.6 43.55 L448.1 43.55 L448.6 43.55 L449.1 43.54 L449.6 43.54 L450.1 43.54 L450.6 43.53 L451.1 43.53 L451.6 43.53 L452.1 43.53 L452.6 43.52 L453.1 43.52 L453.6 43.52 L454.1 43.51 L454.6 43.51 L455.1 43.51 L455.6 43.50 L456.1 43.50 L456.6 43.50 L457.1 43.49 L457.6 43.49 L458.1 43.49 L458.6 43.49 L459.1 43.48 L459.6 43.48 L460.1 43.48 L460.6 43.48 L461.1 43.47 L461.6 43.47 L462.1 43.47 L462.6 43.47 L463.1 43.46 L463.6 43.46 L464.1 43.46 L464.6 43.46 L465.1 43.45 L465.6 43.45 L466.1 43.45 L466.6 43.45 L467.1 43.44 L467.6 43.44 L468.1 43.44 L468.6 43.44 L469.1 43.43 L469.6 43.43 L470.1 43.43 L470.6 43.43 L471.1 43.42 L471.6 43.42 L472.1 43.42 L472.6 43.41 L473.1 43.41 L473.6 43.41 L474.1 43.40 L474.6 43.40 L475.1 43.40 L475.6 43.39 L476.1 43.39 L476.6 43.39 L477.1 43.39 L477.6 43.38 L478.1 43.38 L478.6 43.38 L479.1 43.37 L479.6 43.37 L480.1 43.37 L480.6 43.36 L481.1 43.36 L481.6 43.36 L482.1 43.36 L482.6 43.35 L483.1 43.35 L483.6 43.35 L484.1 43.34 L484.6 43.34 L485.1 43.34 L485.6 43.33 L486.1 43.33 L486.6 43.33 L487.1 43.32 L487.6 43.32 L488.1 43.32 L488.6 43.32 L489.1 43.31 L489.6 43.31 L490.1 43.31 L490.6 43.30 L491.1 43.30 L491.6 43.30 L492.1 43.29 L492.6 43.29 L493.1 43.29 L493.6 43.29 L494.1 43.28 L494.6 43.28 L495.1 43.28 L495.6 43.28 L496.1 43.27 L496.6 43.27 L497.1 43.27 L497.6 43.27 L498.1 43.27 L498.6 43.26 L499.1 43.26 L499.6 43.26 L500.1 43.26 L500.6 43.25 L501.1 43.25 L501.6 43.25 L502.1 43.25 L502.6 43.24 L503.1 43.24 L503.6 43.24 L504.1 43.23 L504.6 43.23 L505.1 43.23 L505.6 43.22 L506.1 43.22 L506.6 43.22 L507.1 43.21 L507.6 43.21 L508.1 43.21 L508.6 43.21 L509.1 43.20 L509.6 43.20 L510.1 43.20 L510.6 43.19 L511.1 43.19 L511.6 43.19 L512.1 43.18 L512.6 43.18 L513.1 43.18 L513.6 43.18 L514.1 43.17 L514.6 43.17 L515.1 43.17 L515.6 43.16 L516.1 43.16 L516.6 43.16 L517.1 43.15 L517.6 43.15 L518.1 43.15 L518.6 43.15 L519.1 43.14 L519.6 43.14 L520.1 43.14 L520.6 43.13 L521.1 43.13 L521.6 43.13 L522.1 43.12 L522.6 43.12 L523.1 43.12 L523.6 43.12 L524.1 43.11 L524.6 43.11 L525.1 43.11 L525.6 43.10 L526.1 43.10" fill="none" stroke="#f00" stroke-width="3" stroke-linejoin="round"/>
<circle cx="86.6" cy="361.70" r="6.05" fill="#f00"/>
<circle cx="94.9" cy="365.70" r="6.05" fill="#f00"/>
<circle cx="103.2" cy="366.20" r="6.05" fill="#f00"/>
<circle cx="111.5" cy="366.10" r="6.05" fill="#f00"/>
<circle cx="119.6" cy="360.40" r="6.05" fill="#f00"/>
<circle cx="127.9" cy="339.70" r="6.05" fill="#f00"/>
<circle cx="136.2" cy="317.40" r="6.05" fill="#f00"/>
<circle cx="144.6" cy="262.40" r="6.05" fill="#f00"/>
<circle cx="152.0" cy="254.00" r="6.05" fill="#f00"/>
<circle cx="161.2" cy="217.50" r="6.05" fill="#f00"/>
<circle cx="169.4" cy="205.40" r="6.05" fill="#f00"/>
<circle cx="177.8" cy="224.70" r="6.05" fill="#f00"/>
<circle cx="186.2" cy="266.80" r="6.05" fill="#f00"/>
<circle cx="194.5" cy="300.00" r="6.05" fill="#f00"/>
<circle cx="202.5" cy="324.90" r="6.05" fill="#f00"/>
<circle cx="210.9" cy="352.80" r="6.05" fill="#f00"/>
<circle cx="219.1" cy="361.30" r="6.05" fill="#f00"/>
<circle cx="227.5" cy="362.40" r="6.05" fill="#f00"/>
<circle cx="235.7" cy="365.30" r="6.05" fill="#f00"/>
<circle cx="244.0" cy="366.90" r="6.05" fill="#f00"/>
<circle cx="252.3" cy="367.00" r="6.05" fill="#f00"/>
<circle cx="260.6" cy="367.00" r="6.05" fill="#f00"/>
<circle cx="268.9" cy="367.00" r="6.05" fill="#f00"/>
<circle cx="277.2" cy="366.90" r="6.05" fill="#f00"/>
<circle cx="285.4" cy="362.80" r="6.05" fill="#f00"/>
<circle cx="293.7" cy="283.30" r="6.05" fill="#f00"/>
<circle cx="302.2" cy="135.80" r="6.05" fill="#f00"/>
<circle cx="310.2" cy="70.00" r="6.05" fill="#f00"/>
<circle cx="318.6" cy="52.20" r="6.05" fill="#f00"/>
<circle cx="326.9" cy="46.90" r="6.05" fill="#f00"/>
<circle cx="335.2" cy="45.10" r="6.05" fill="#f00"/>
<circle cx="343.5" cy="44.20" r="6.05" fill="#f00"/>
<circle cx="351.8" cy="44.10" r="6.05" fill="#f00"/>
<circle cx="360.1" cy="44.05" r="6.05" fill="#f00"/>
<circle cx="368.4" cy="44.01" r="6.05" fill="#f00"/>
<circle cx="376.7" cy="43.96" r="6.05" fill="#f00"/>
<circle cx="385.0" cy="43.91" r="6.05" fill="#f00"/>
<circle cx="393.3" cy="43.86" r="6.05" fill="#f00"/>
<circle cx="401.6" cy="43.82" r="6.05" fill="#f00"/>
<circle cx="409.9" cy="43.77" r="6.05" fill="#f00"/>
<circle cx="418.2" cy="43.72" r="6.05" fill="#f00"/>
<circle cx="426.5" cy="43.67" r="6.05" fill="#f00"/>
<circle cx="434.8" cy="43.63" r="6.05" fill="#f00"/>
<circle cx="443.1" cy="43.58" r="6.05" fill="#f00"/>
<circle cx="451.4" cy="43.53" r="6.05" fill="#f00"/>
<circle cx="459.7" cy="43.48" r="6.05" fill="#f00"/>
<circle cx="468.0" cy="43.44" r="6.05" fill="#f00"/>
<circle cx="476.3" cy="43.39" r="6.05" fill="#f00"/>
<circle cx="484.6" cy="43.34" r="6.05" fill="#f00"/>
<circle cx="492.9" cy="43.29" r="6.05" fill="#f00"/>
<circle cx="501.2" cy="43.25" r="6.05" fill="#f00"/>
<circle cx="509.5" cy="43.20" r="6.05" fill="#f00"/>
<circle cx="517.8" cy="43.15" r="6.05" fill="#f00"/>
<circle cx="526.1" cy="43.10" r="6.05" fill="#f00"/>
</g>
<path d="M97.5 28.95H139.5" stroke="#000" stroke-width="2.7" stroke-linecap="round"/><rect x="113.2" y="23.75" width="10.4" height="10.4" fill="#000"/>
<path d="M97.5 52.3H139.5" stroke="#f00" stroke-width="2.7" stroke-linecap="round"/><circle cx="118.4" cy="52.3" r="6.05" fill="#f00"/>
<text x="154.9" y="35.3" font-size="18.5">Y138</text>
<text x="155.5" y="59.0" font-size="18.5">TCHCQ</text>
</svg></body></html>
